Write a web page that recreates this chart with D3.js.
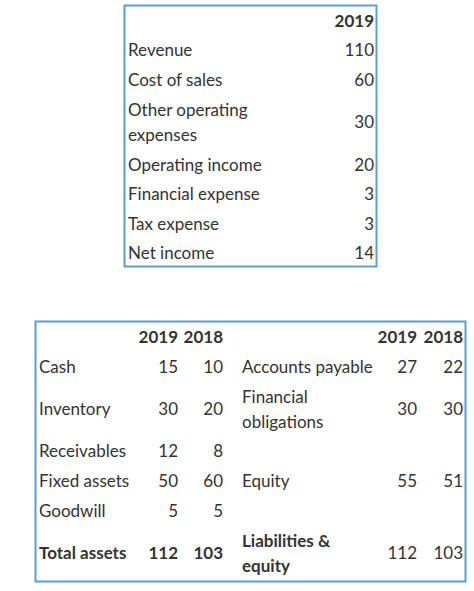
<!DOCTYPE html>
<html><head><meta charset="utf-8">
<script src="https://cdn.jsdelivr.net/npm/d3@7"></script>
<style>body{margin:0;background:#fff}text{font-family:Lato,"Open Sans",sans-serif;font-size:17px;fill:#333}</style>
</head><body>
<svg id="c" width="474" height="591"></svg>
<script>
// Income statement
const incomeHeader = ["2019"];
const incomeLabels = [["Revenue"],["Cost of sales"],["Other operating","expenses"],["Operating income"],["Financial expense"],["Tax expense"],["Net income"]];
const income2019 = [110,60,30,20,3,3,14];
// Balance sheet
const bsHeader = ["2019","2018"];
const assetLabels = [["Cash"],["Inventory"],["Receivables"],["Fixed assets"],["Goodwill"],["Total assets"]];
const assets2019 = [15,30,12,50,5,112];
const assets2018 = [10,20,8,60,5,103];
const liabLabels = [["Accounts payable"],["Financial","obligations"],[],["Equity"],[],["Liabilities &","equity"]];
const liab2019 = [27,30,null,55,null,112];
const liab2018 = [22,30,null,51,null,103];

const svg = d3.select("#c");
const lineH = 25;
function rowCenters(units, top, unitH, dbl){
  // units: line counts per row; returns centers
  let y = top, out=[];
  units.forEach(u=>{const h = u>1?dbl:unitH; out.push(y+h/2); y+=h;});
  return out;
}
function cell(g, x, y, lines, anchor, bold){
  const t = g.append("text").attr("x",x).attr("text-anchor",anchor)
    .attr("font-weight",bold?"bold":null);
  const n = lines.length;
  lines.forEach((l,i)=>t.append("tspan").attr("x",x)
    .attr("y", y + (i-(n-1)/2)*lineH).attr("dy","0.35em").text(l));
}

// top table
const g1 = svg.append("g");
g1.append("rect").attr("x",124.5).attr("y",5.5).attr("width",252).attr("height",261)
  .attr("fill","none").attr("stroke","#5a9fd4").attr("stroke-width",2);
const c1 = rowCenters([1].concat(incomeLabels.map(d=>d.length)), 6, 29.6, 55);
cell(g1,374,c1[0],incomeHeader,"end",true);
incomeLabels.forEach((l,i)=>{cell(g1,128,c1[i+1],l,"start");cell(g1,374,c1[i+1],[String(income2019[i])],"end");});

// bottom table
const g2 = svg.append("g");
g2.append("rect").attr("x",35.5).attr("y",321.5).attr("width",430).attr("height",260)
  .attr("fill","none").attr("stroke","#5a9fd4").attr("stroke-width",2);
const units = assetLabels.map((d,i)=>Math.max(d.length,liabLabels[i].length,1));
const c2 = rowCenters([1].concat(units), 322, 29.8, 55);
const x = {a19:178,a18:223,l19:417,l18:463};
cell(g2,x.a19,c2[0],[bsHeader[0]],"end",true);
cell(g2,x.a18,c2[0],[bsHeader[1]],"end",true);
cell(g2,x.l19,c2[0],[bsHeader[0]],"end",true);
cell(g2,x.l18,c2[0],[bsHeader[1]],"end",true);
assetLabels.forEach((l,i)=>{
  const b = i===assetLabels.length-1;
  const y = c2[i+1];
  cell(g2,39,y,l,"start",b);
  cell(g2,x.a19,y,[String(assets2019[i])],"end",b);
  cell(g2,x.a18,y,[String(assets2018[i])],"end",b);
  if(liabLabels[i].length) cell(g2,242,y,liabLabels[i],"start",b);
  if(liab2019[i]!=null) cell(g2,x.l19,y,[String(liab2019[i])],"end");
  if(liab2018[i]!=null) cell(g2,x.l18,y,[String(liab2018[i])],"end");
});
</script></body></html>
